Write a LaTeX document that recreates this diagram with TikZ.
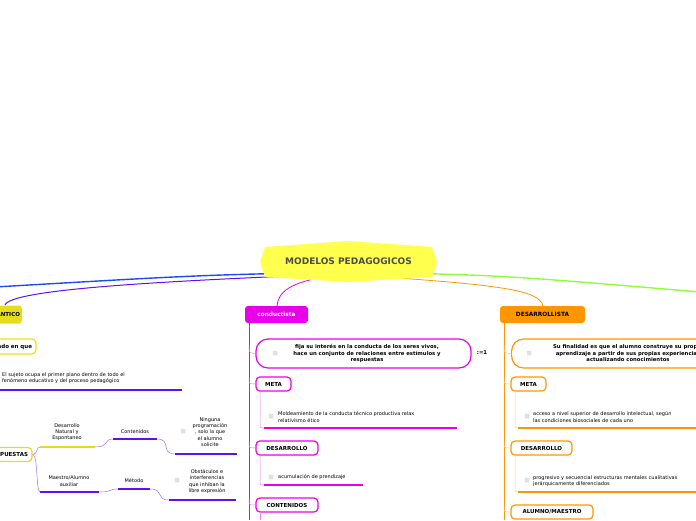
\documentclass[tikz,border=0pt]{standalone}
\usepackage{fontspec}
\setmainfont{DejaVu Sans}
\begin{document}
\begin{tikzpicture}[x=1pt,y=-1pt,
  small/.style={font=\fontsize{5}{6.3}\selectfont,inner sep=0pt},
  bsmall/.style={font=\bfseries\fontsize{5.3}{6.5}\selectfont,inner sep=0pt},
  box/.style={draw=#1,line width=1.2pt,rounded corners=4pt,fill=white,inner sep=0pt,font=\bfseries\fontsize{5.5}{6.5}\selectfont},
  ul/.style={line width=2.2pt,draw=#1},
  cb/.style={fill=black!12,minimum size=4.5pt,inner sep=0pt,rounded corners=0.5pt},
  ln/.style={line width=0.5pt,draw=#1}]
\definecolor{ylw}{HTML}{E6DC1E}\definecolor{pur}{HTML}{6010F0}\definecolor{mag}{HTML}{E800E8}
\definecolor{org}{HTML}{FF9500}\definecolor{blu}{HTML}{1A4CF0}\definecolor{grn}{HTML}{8CFF3A}
\definecolor{cyl}{HTML}{FFFF4D}
\useasboundingbox (0,0) rectangle (696,520);
\clip (0,0) rectangle (696,520);
% branches from center
\coordinate (c) at (348,272);
\coordinate (bl) at (-5,287); \coordinate (gr) at (700,292);
\draw[blu,line width=1.4pt] (c) .. controls (200,275) .. (bl);
\draw[grn,line width=1.4pt] (c) .. controls (500,275) .. (gr);
\draw[pur,line width=1pt] (290,276) .. controls (150,282) and (10,290) .. (5,305);
\draw[mag,line width=0.8pt] (330,276) .. controls (290,282) and (278,292) .. (277,306);
\draw[org,line width=0.8pt] (370,276) .. controls (500,285) and (540,290) .. (543,306);
% central node
\fill[cyl] (265,247) -- (348,241) -- (432,247) -- (437,262) -- (432,277) -- (348,282) -- (265,277) -- (260,262) -- cycle;
\node[font=\bfseries\fontsize{9}{10}\selectfont,text=black!70] (center) at (348.5,261.5) {MODELOS PEDAGOGICOS};
% left (romantico)
\node[fill=ylw,rounded corners=3pt,minimum height=18pt,text width=70pt,align=right,inner sep=2pt,font=\bfseries\fontsize{5.5}{6.5}\selectfont] (rom) at (-15,314.5) {ROMANTICO};
\node[box=ylw!80!yellow,minimum height=15pt,text width=80pt,align=right,inner xsep=4pt] (bas) at (-8,346.5) {Basado en que};
\node[small,align=left,anchor=north west] (suj) at (2,372) {El sujeto ocupa el primer plano dentro de todo el\\fenómeno educativo y del proceso pedagógico};
\draw[ul=pur] (-5,390) -- (182,390);
\node[box=ylw,minimum height=14pt,text width=60pt,align=right,inner xsep=4pt] (tas) at (-2,454.5) {PROPUESTAS};
\node[small,align=center,text width=45pt] (des) at (67,432) {Desarrollo\\Natural y\\Espontaneo};
\draw[ul=ylw] (40,447) coordinate (desa) -- (95,447) coordinate (desb);
\node[small,align=center] (mae) at (69,481) {Maestro/Alumno\\auxiliar};
\draw[ul=pur] (40,492) coordinate (maea) -- (99,492) coordinate (maeb);
\draw[ln=pur!60] (tas.east) -- (33,454.5) .. controls (38,454) and (36,447) .. (desa);
\draw[ln=pur!60] (33,454.5) .. controls (38,456) and (36,492) .. (maea);
\node[small] (con) at (135,432) {Contenidos};
\draw[ul=pur] (113,439) coordinate (cona) -- (157,439) coordinate (conb);
\node[small] (met) at (134,481) {Método};
\draw[ul=pur] (118,489) coordinate (meta) -- (150,489) coordinate (metb);
\draw[ln=pur!60] (desb) .. controls (110,447) and (103,439) .. (cona);
\draw[ln=pur!60] (maeb) .. controls (113,492) and (108,489) .. (meta);
\node[small,align=center] (nin) at (210,432) {Ninguna\\programación\\, solo la que\\el alumno\\solicite};
\node[cb] at (183,431) {};
\draw[ul=pur] (175,454) coordinate (nina) -- (237,454);
\node[small,align=center] (obs) at (207,481.5) {Obstáculos e\\interferencias\\que inhiban la\\libre expresión};
\node[cb] at (177,480) {};
\draw[ul=pur] (169,500) coordinate (obsa) -- (236,500);
\draw[ln=pur!60] (conb) .. controls (172,439) and (160,454) .. (nina);
\draw[ln=pur!60] (metb) .. controls (165,489) and (155,500) .. (obsa);
% conductista
\node[fill=mag,rounded corners=3pt,minimum width=63pt,minimum height=17pt,inner sep=0pt,text=white,font=\bfseries\fontsize{5.8}{6.5}\selectfont] (cond) at (276.5,314.5) {conductista};
\draw[mag,line width=0.8pt] (249,323) -- (249,520);
\node[box=mag,rounded corners=12pt,minimum width=215pt,minimum height=29pt] (fija) at (363.5,353.5) {};
\node[bsmall,align=center] at (367,353.5) {fija su interés en la conducta de los seres vivos,\\hace un conjunto de relaciones entre estímulos y\\respuestas};
\node[cb] at (275,353) {};
\node[bsmall] (eq) at (482,353) {:=1};
\node[box=mag,minimum width=35pt,minimum height=14pt] (cmeta) at (273.5,384) {META};
\node[box=mag,minimum width=62pt,minimum height=14pt] (cdes) at (287,448) {DESARROLLO};
\node[box=mag,minimum width=62pt,minimum height=14pt] (ccon) at (287,505) {CONTENIDOS};
\node[small,align=left,anchor=west] (mold) at (278,417) {Moldeamiento de la conducta técnico productiva relax\\relativismo ético};
\node[cb] at (271,416) {};
\draw[ul=mag] (264,428) -- (457,428);
\node[small,anchor=west] (acu) at (278,477) {acumulación de prendizaje};
\node[cb] at (271,477) {};
\draw[ul=mag] (264,485) -- (363,485);
\draw[ln=mag!50] (260,391) -- (260,424) .. controls (260,428) .. (264,428);
\draw[ln=mag!50] (260,455) -- (260,481) .. controls (260,485) .. (264,485);
\draw[ln=mag!50] (260,512) -- (260,520);
% desarrollista
\node[fill=org,rounded corners=3pt,minimum width=85pt,minimum height=17pt,inner sep=0pt,font=\bfseries\fontsize{5.8}{6.5}\selectfont] (desl) at (542.5,314.5) {DESARROLLISTA};
\draw[org,line width=0.8pt] (504,323) -- (504,520);
\node[box=org,rounded corners=12pt,anchor=west,minimum width=215pt,minimum height=29pt] (fin) at (511,353.5) {};
\node[bsmall,align=center] at (628,353.5) {Su finalidad es que el alumno construye su propio\\aprendizaje a partir de sus propias experiencias\\actualizando conocimientos};
\node[cb] at (529,353) {};
\node[box=org,minimum width=35pt,minimum height=14pt] (dmeta) at (528.5,384) {META};
\node[box=org,minimum width=61pt,minimum height=14pt] (ddes) at (541.5,448) {DESARROLLO};
\node[box=org,minimum width=82pt,minimum height=14pt] (dal) at (552,512) {ALUMNO/MAESTRO};
\node[small,align=left,anchor=west] (acc) at (533,417) {acceso a nivel superior de desarrollo intelectual, según\\las condiciones biosociales de cada uno};
\node[cb] at (527,416) {};
\draw[ul=org] (518,428) -- (700,428);
\node[small,align=left,anchor=west] (prog) at (533,481) {progresivo y secuencial estructuras mentales cualitativas\\jerárquicamente diferenciados};
\node[cb] at (527,480) {};
\draw[ul=org] (518,492) -- (700,492);
\draw[ln=org!50] (515,391) -- (515,424) .. controls (515,428) .. (518,428);
\draw[ln=org!50] (515,455) -- (515,488) .. controls (515,492) .. (518,492);
% stem connectors
\draw[ln=mag!50] (249,345) .. controls (249,353) .. (fija.west);
\draw[ln=mag!50] (249,378) .. controls (249,384) .. (cmeta.west);
\draw[ln=mag!50] (249,442) .. controls (249,448) .. (cdes.west);
\draw[ln=mag!50] (249,499) .. controls (249,505) .. (ccon.west);
\draw[ln=org!50] (504,345) .. controls (504,353) .. (fin.west);
\draw[ln=org!50] (504,378) .. controls (504,384) .. (dmeta.west);
\draw[ln=org!50] (504,442) .. controls (504,448) .. (ddes.west);
\draw[ln=org!50] (504,506) .. controls (504,512) .. (dal.west);
\end{tikzpicture}
\end{document}
